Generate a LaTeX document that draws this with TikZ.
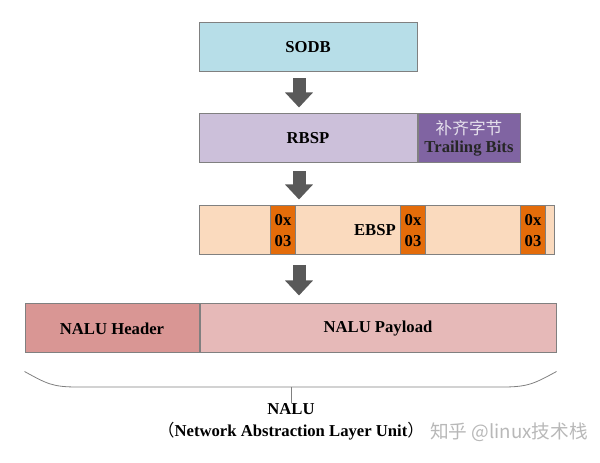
\documentclass[tikz,border=0pt]{standalone}
\usepackage{fontspec}
\setmainfont{Liberation Serif}
\newfontfamily\cjk{Noto Sans CJK SC}
\usetikzlibrary{arrows.meta,positioning}
\definecolor{sodbblue}   {RGB}{183,222,232}
\definecolor{rbsplilac}  {RGB}{204,192,218}
\definecolor{trailpurple}{RGB}{128,100,162}
\definecolor{ebsppeach}  {RGB}{250,218,190}
\definecolor{escorange}  {RGB}{228,108, 10}
\definecolor{hdrred}     {RGB}{217,150,148}
\definecolor{payloadpink}{RGB}{230,185,184}
\definecolor{arrowgray}  {RGB}{ 89, 89, 89}
\definecolor{edgegray}   {RGB}{128,128,128}

\begin{document}
\begin{tikzpicture}[
  x=0.75pt, y=-0.75pt,
  every node/.style={font=\bfseries\fontsize{12.5}{15}\selectfont, align=center, inner sep=0pt},
  field/.style={draw=edgegray, line width=0.75pt, minimum height=36.75pt},
  escbyte/.style={field, fill=escorange, minimum width=18.75pt, font=\bfseries\fontsize{12.5}{16}\selectfont},
  arrow/.style={arrowgray, line width=9.75pt, -{Triangle[length=11.25pt, width=20.25pt]}},
  brace/.style={edgegray, line width=0.6pt}
]
  \useasboundingbox (0,0) rectangle (600,463);

  % Nodes
  \node (sodb) [field, fill=sodbblue, minimum width=163.5pt] at (308,47.5) {SODB};
  \node (rbsp) [field, fill=rbsplilac, minimum width=163.5pt] at (308,138.5) {RBSP};
  \node (trail) [field, fill=trailpurple, minimum width=76.5pt, right=0pt of rbsp,
    font=\bfseries\fontsize{12.5}{13.5}\selectfont, text=black!85]
    {{\cjk\mdseries\color{white!80!trailpurple}补齐字节}\\Trailing Bits};

  \node (ebsp) [field, fill=ebsppeach, minimum width=266.25pt] at (376.5,230.5) {};
  \node (esc1) [escbyte] at (283,230.5) {0x\\03};
  \node (esc2) [escbyte] at (413,230.5) {0x\\03};
  \node (esc3) [escbyte] at (533,230.5) {0x\\03};
  \node (ebsptext) [left=3pt of esc2] {EBSP};

  \node (hdr) [field, fill=hdrred, minimum width=130.5pt] at (112,328.5) {NALU Header};
  \node (pay) [field, fill=payloadpink, minimum width=267pt, right=0pt of hdr] {NALU Payload};

  \node (nalu) [anchor=north, font=\bfseries\fontsize{12.5}{17}\selectfont] at (291,403)
    {NALU\\{\cjk\mdseries （}Network Abstraction Layer Unit{\cjk\mdseries ）}};
  \node (mark) [text=black!28, font=\cjk\fontsize{14}{14}\selectfont] at (509,432) {知乎 @linux技术栈};

  \coordinate (axis) at (299,0);
  \coordinate (bracemid) at (291,387);

  % Paths
  \draw [arrow, shorten <=4.5pt, shorten >=4.5pt] (sodb.south -| axis) -- (rbsp.north -| axis);
  \draw [arrow, shorten <=6pt, shorten >=4.5pt] (rbsp.south -| axis) -- (ebsp.north -| axis);
  \draw [arrow, shorten <=7pt, shorten >=6pt] (ebsp.south -| axis) -- (hdr.north -| axis);

  \draw [brace] ([yshift=-13.5pt]hdr.south west) .. controls +(22,12) and +(-25,0) .. (77,387)
    -- (503,387) .. controls +(25,0) and +(-22,12) .. ([yshift=-13.5pt]pay.south east);
  \draw [brace] (bracemid) -- (nalu.north);
\end{tikzpicture}
\end{document}
